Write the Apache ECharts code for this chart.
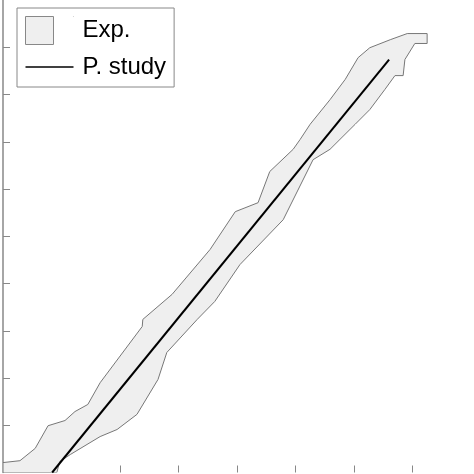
<!DOCTYPE html>
<html><head><meta charset="utf-8">
<script src="https://cdn.jsdelivr.net/npm/echarts@6/dist/echarts.min.js"></script>
<style>html,body{margin:0;padding:0;background:#fff}#c{width:474px;height:474px}</style>
</head><body><div id="c"></div>
<script>
const upperX=[0,0.29,0.55,0.77,1.06,1.23,1.45,1.66,2.38,2.39,2.89,3.54,3.97,4.36,4.56,4.96,5.08,5.25,5.59,5.85,6.07,6.27,6.62,6.91,7.25];
const upperY=[0.21,0.25,0.51,0.99,1.10,1.29,1.44,1.90,3.09,3.24,3.77,4.72,5.52,5.71,6.37,6.84,7.05,7.37,7.89,8.32,8.78,8.99,9.16,9.29,9.29];
const lowerX=[7.25,7.04,6.87,6.84,6.70,6.53,6.27,6.02,5.76,5.59,5.30,4.79,4.05,3.62,3.32,2.80,2.65,2.29,1.95,1.66,1.15,0.97,0.92,0];
const lowerY=[9.08,9.08,8.74,8.40,8.40,8.11,7.68,7.37,7.05,6.84,6.62,5.35,4.40,3.62,3.24,2.54,1.97,1.23,0.91,0.76,0.38,0.23,0,0];
const studyX=[0.84,6.60];
const studyY=[0,8.74];
const xTicks=[2,3,4,5,6,7];
const yTicks=[1,2,3,4,5,6,7,8,9];

const band=upperX.map((x,i)=>[x,upperY[i]]).concat(lowerX.map((x,i)=>[x,lowerY[i]]));
const chart=echarts.init(document.getElementById('c'),null,{renderer:'canvas'});
chart.setOption({
  animation:false,
  grid:{left:3,right:3,top:0,bottom:1.5,containLabel:false},
  xAxis:{type:'value',min:0,max:8,interval:1,splitLine:{show:false},
    axisLine:{show:false},axisLabel:{show:false},
    axisTick:{show:true,inside:true,length:7,customValues:xTicks,lineStyle:{color:'#888'}}},
  yAxis:{type:'value',min:0,max:10,interval:1,splitLine:{show:false},
    axisLine:{show:true,lineStyle:{color:'#888',width:1.5}},axisLabel:{show:false},
    axisTick:{show:true,inside:true,length:7,customValues:yTicks,lineStyle:{color:'#888'}}},
  legend:{left:17,top:8,orient:'vertical',backgroundColor:'#fff',borderColor:'#888',borderWidth:1,
    borderRadius:0,padding:[8,8,8,8],itemGap:10,itemWidth:48,itemHeight:28,
    textStyle:{fontFamily:'Liberation Sans',fontSize:24,color:'#000',padding:[0,0,0,4]},
    data:[{name:'Exp.',icon:'path://M0,0h28v28h-28z M47.9,0h0.1v0.1h-0.1z',itemStyle:{color:'#efefef',borderColor:'#888',borderWidth:1}},
          {name:'P. study',icon:'path://M0,0h48v1.6h-48z',itemStyle:{color:'#000'}}]},
  series:[
    {name:'Exp.',type:'custom',data:[0],itemStyle:{color:'#efefef'},
     renderItem:(params,api)=>({type:'polygon',shape:{points:band.map(p=>api.coord(p))},
       style:{fill:'#efefef',stroke:'#777',lineWidth:1}}),silent:true,clip:true},
    {name:'P. study',type:'line',data:studyX.map((x,i)=>[x,studyY[i]]),showSymbol:false,
     lineStyle:{color:'#000',width:2},itemStyle:{color:'#000'},clip:true}
  ]
});
</script></body></html>
